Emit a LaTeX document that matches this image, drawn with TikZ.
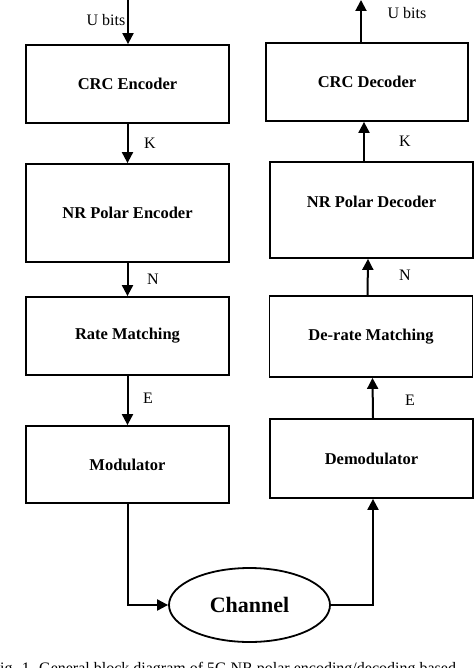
\documentclass[tikz,border=0pt]{standalone}
\usepackage{fontspec}
\setmainfont{Liberation Serif}
\usetikzlibrary{arrows.meta,shapes.geometric}
\tikzset{
    blk/.style={draw, line width=1.8pt, minimum width=203pt, inner sep=0pt,
        font=\fontsize{16.5}{19}\selectfont\bfseries},
    flow/.style={-{Triangle[width=11pt,length=11pt]}, line width=2pt},
    lbl/.style={font=\fontsize{16}{19}\selectfont}
}
\begin{document}
\begin{tikzpicture}[x=1pt, y=-1pt]
    \useasboundingbox (0,0) rectangle (474,668);

    % encoder side
    \node[blk, minimum height=78pt] (crcenc) at (127.5,84) {CRC Encoder};
    \node[blk, minimum height=98pt] (polarenc) at (127.5,213) {NR Polar Encoder};
    \node[blk, minimum height=78pt] (ratematch) at (127.5,336) {Rate Matching};
    \node[blk, minimum height=77pt] (mod) at (127.5,464.5) {Modulator};

    % decoder side
    \node[blk, minimum width=202pt, minimum height=78pt] (crcdec) at (367,82) {CRC Decoder};
    \node[blk, minimum height=96pt] (polardec) at (371.5,210) {};
    \node[blk, draw=none] at ([yshift=8]polardec.center) {NR Polar Decoder};
    \node[blk, minimum height=81pt] (deratematch) at (371,336.5) {De-rate Matching};
    \node[blk, minimum height=79pt] (demod) at (371.5,458.5) {Demodulator};

    \node[draw, ellipse, line width=1.8pt, minimum width=161pt, minimum height=74pt,
        font=\fontsize{22}{26}\selectfont\bfseries] (channel) at (249.5,605) {Channel};

    \coordinate (uin) at (128,0);
    \coordinate (uout) at (361,0);

    \draw[flow] (uin) -- (crcenc.north -| uin);
    \draw[flow] (crcenc) -- (polarenc);
    \draw[flow] (polarenc) -- (ratematch);
    \draw[flow] (ratematch) -- (mod);
    \draw[flow] (mod.south) |- (channel.west);

    \draw[flow] (channel.east) -| ([xshift=1.5]demod.south);
    \draw[flow] ([xshift=1.5]demod.north) -- ([xshift=1.5]deratematch.south);
    \draw[flow] ([xshift=-3.5]deratematch.north) -- ([xshift=-3.5]polardec.south);
    \draw[flow] ([xshift=-7.5]polardec.north) -- ([xshift=-3]crcdec.south);
    \draw[flow] (crcdec.north -| uout) -- (uout);

    \node[lbl] (uinlbl) at (106,20) {U bits};
    \node[lbl] (klbl1) at (150,143) {K};
    \node[lbl] (nlbl1) at (153,279) {N};
    \node[lbl] (elbl1) at (148,398) {E};

    \node[lbl] (uoutlbl) at (407,13) {U bits};
    \node[lbl] (klbl2) at (405,141) {K};
    \node[lbl] (nlbl2) at (405,275) {N};
    \node[lbl] (elbl2) at (410,400) {E};

    \node[lbl, anchor=base west, inner sep=0pt] (caption) at (-9,673)
        {Fig. 1. General block diagram of 5G NR polar encoding/decoding based};
\end{tikzpicture}
\end{document}
